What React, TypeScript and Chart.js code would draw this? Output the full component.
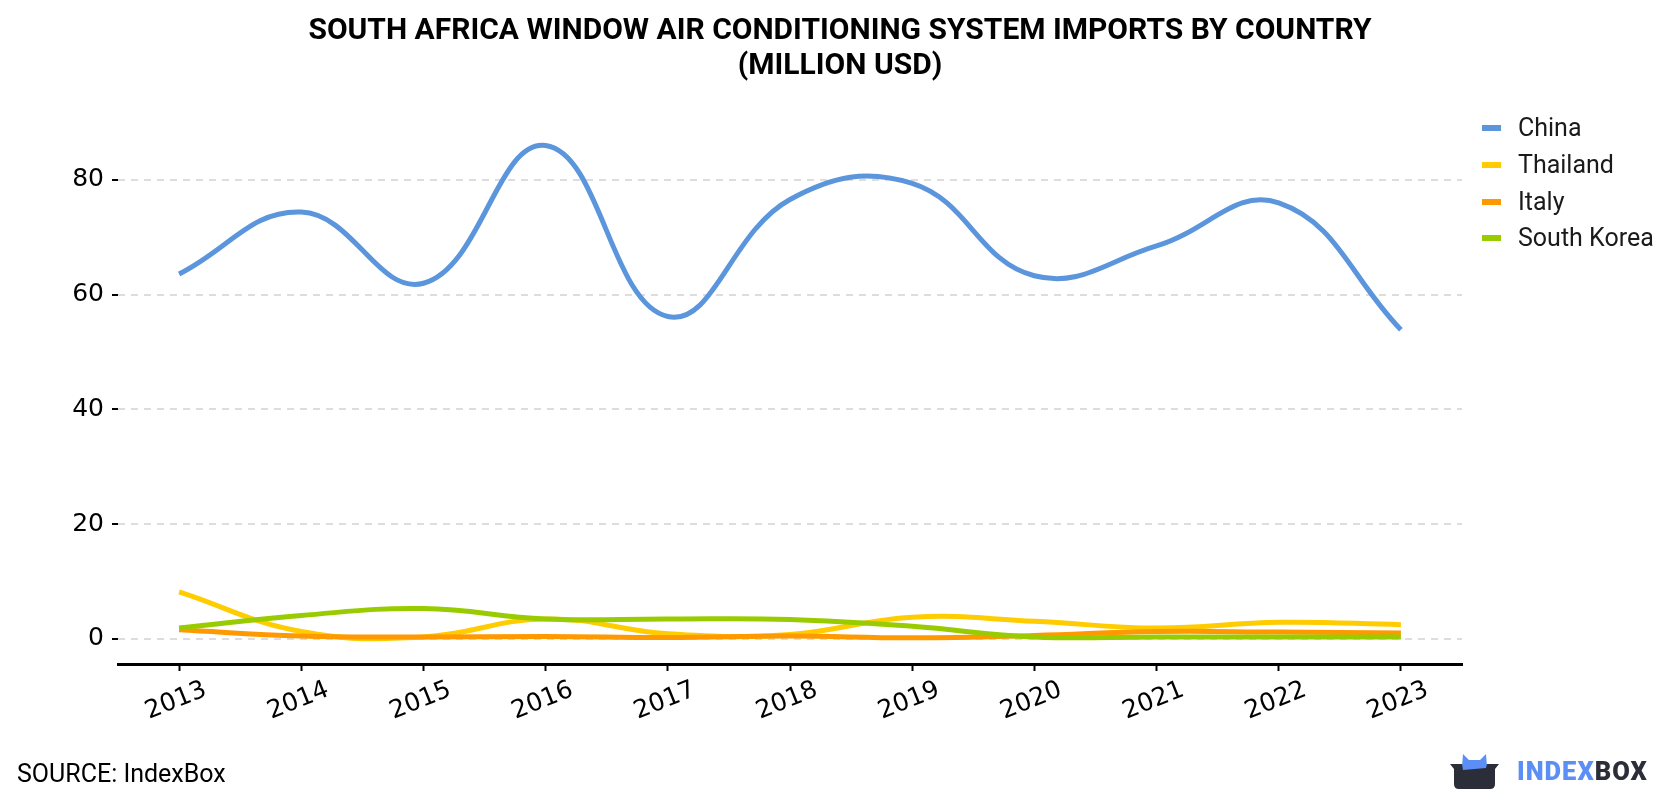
import React, { useEffect, useRef } from "react";
import { Chart, registerables } from "chart.js";

Chart.register(...registerables);

// Years on the horizontal axis
const years = ["2013", "2014", "2015", "2016", "2017", "2018", "2019", "2020", "2021", "2022", "2023"];

// Imports by supplier country, million USD
const china = [63.6, 74.4, 62.0, 86.0, 56.2, 76.6, 79.4, 63.3, 68.5, 76.0, 53.9];
const thailand = [8.2, 1.3, 0.35, 3.5, 0.9, 0.8, 3.8, 3.1, 1.9, 2.9, 2.5];
const italy = [1.6, 0.5, 0.35, 0.45, 0.25, 0.5, 0.2, 0.6, 1.3, 1.2, 1.05];
const southKorea = [1.9, 4.1, 5.3, 3.5, 3.5, 3.4, 2.2, 0.35, 0.35, 0.35, 0.35];

const yTicks = [0, 20, 40, 60, 80];

const seriesNames = ["China", "Thailand", "Italy", "South Korea"];
const seriesColors = ["#5b95dc", "#ffcc00", "#ff9900", "#99cc00"];

const titleLines = ["SOUTH AFRICA WINDOW AIR CONDITIONING SYSTEM IMPORTS BY COUNTRY", "(MILLION USD)"];

// Rotated year labels centred under each tick mark
const xLabelPlugin = {
  id: "xLabels",
  afterDraw(chart: any) {
    const { ctx } = chart;
    const x = chart.scales.x;
    ctx.save();
    ctx.font = '25px "DejaVu Sans"';
    ctx.fillStyle = "#000";
    ctx.textAlign = "center";
    ctx.textBaseline = "middle";
    x.ticks.forEach((t: any, i: number) => {
      const px = x.getPixelForTick(i);
      ctx.save();
      ctx.translate(px - 3, 701);
      ctx.rotate((-22 * Math.PI) / 180);
      ctx.fillText(x.getLabelForValue(t.value), 0, 0);
      ctx.restore();
    });
    ctx.restore();
  },
};

function LineChart() {
  const ref = useRef<HTMLCanvasElement | null>(null);
  useEffect(() => {
    if (!ref.current) return;
    const values = [china, thailand, italy, southKorea];
    const drawOrder = [0, 3, 2, 1];
    const chart = new Chart(ref.current, {
      type: "line",
      data: {
        labels: years,
        datasets: seriesNames.map((name, i) => ({
          label: name,
          data: values[i],
          borderColor: seriesColors[i],
          backgroundColor: seriesColors[i],
          borderWidth: 5,
          pointRadius: 0,
          pointHoverRadius: 0,
          tension: 0.42,
          fill: false,
          order: drawOrder[i],
        })),
      },
      options: {
        responsive: false,
        animation: false,
        events: [],
        layout: { padding: { top: 122.6, right: 218, bottom: 76, left: 0 } },
        plugins: { legend: { display: false }, title: { display: false }, tooltip: { enabled: false } },
        scales: {
          x: {
            type: "category",
            offset: true,
            grid: {
              display: true,
              drawOnChartArea: false,
              drawTicks: true,
              tickLength: 7,
              tickWidth: 2,
              tickColor: "#000",
              color: "#000",
            },
            border: { display: true, color: "#000", width: 3 },
            ticks: { display: false },
            afterFit: (s: any) => {
              s.height = 60;
            },
          },
          y: {
            min: -4.36,
            max: 90,
            afterBuildTicks: (s: any) => {
              s.ticks = yTicks.map((v) => ({ value: v }));
            },
            grid: {
              color: "#dddddd",
              lineWidth: 2,
              drawTicks: true,
              tickLength: 6,
              tickWidth: 2,
              tickColor: "#000",
              tickBorderDash: [],
            },
            border: { display: false, dash: [7, 6] },
            ticks: {
              font: { family: "DejaVu Sans", size: 25 },
              color: "#000",
              padding: 8,
            },
            afterFit: (s: any) => {
              s.width = 118;
            },
          },
        },
      },
      plugins: [xLabelPlugin],
    });
    return () => chart.destroy();
  }, []);
  return <canvas ref={ref} width={1680} height={800} style={{ position: "absolute", left: 0, top: 0 }} />;
}

function Logo() {
  return (
    <div style={{ position: "absolute", left: 1450, top: 752, height: 38, display: "flex", alignItems: "center" }}>
      <svg width="50" height="36" viewBox="0 0 50 36">
        <polygon points="13,1 19,7 30,7 36,1 37,14 12,14" fill="#5b8ff5" />
        <path d="M0,11 L49,11 L45,16 L45,31 Q45,36 40,36 L9,36 Q4,36 4,31 L4,16 Z" fill="#2b2d38" />
        <polygon points="12,11 37,11 36,15 13,17" fill="#5b8ff5" />
      </svg>
      <span
        style={{
          marginLeft: 17,
          fontFamily: "Roboto, sans-serif",
          fontWeight: 900,
          fontSize: 25.5,
          letterSpacing: 1,
          lineHeight: "38px",
        }}
      >
        <span style={{ color: "#5b8ff5" }}>INDEX</span>
        <span style={{ color: "#2b2d38" }}>BOX</span>
      </span>
    </div>
  );
}

export default function App() {
  const legendRows = [128, 165, 202, 238];
  return (
    <div style={{ position: "absolute", left: 0, top: 0, width: 1680, height: 800, background: "#fff", overflow: "hidden" }}>
      <LineChart />
      {titleLines.map((t, i) => (
        <div
          key={t}
          style={{
            position: "absolute",
            left: 0,
            width: 1680,
            top: 29 + i * 35 - 18,
            height: 36,
            lineHeight: "36px",
            textAlign: "center",
            fontFamily: "Roboto, sans-serif",
            fontWeight: 700,
            fontSize: 30,
            color: "#000",
          }}
        >
          {t}
        </div>
      ))}
      {seriesNames.map((name, i) => (
        <div key={name} style={{ position: "absolute", left: 1482, top: legendRows[i] - 16, height: 32, display: "flex", alignItems: "center" }}>
          <div style={{ width: 19, height: 6, background: seriesColors[i] }} />
          <span style={{ marginLeft: 17, fontFamily: "Roboto, sans-serif", fontSize: 25, color: "#1a1a1a", lineHeight: "32px" }}>{name}</span>
        </div>
      ))}
      <div
        style={{
          position: "absolute",
          left: 17,
          top: 758,
          height: 32,
          lineHeight: "32px",
          fontFamily: "Roboto, sans-serif",
          fontSize: 25,
          color: "#000",
        }}
      >
        SOURCE: IndexBox
      </div>
      <Logo />
    </div>
  );
}
